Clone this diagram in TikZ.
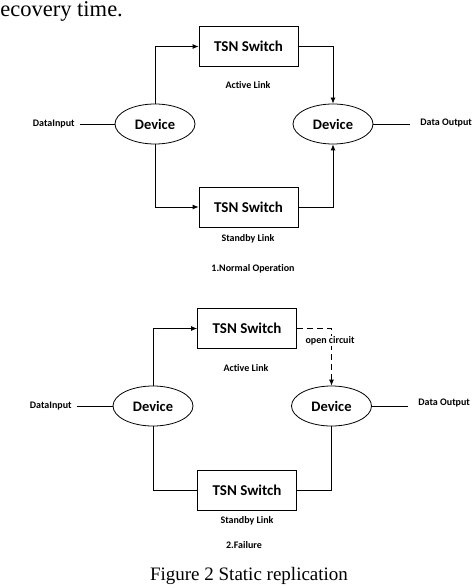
\documentclass[tikz,border=0pt]{standalone}
\usepackage{fontspec}
\setmainfont{Carlito}[Ligatures=NoCommon]
\newfontfamily\capfont{Liberation Serif}
\usetikzlibrary{shapes.geometric,arrows.meta}
\begin{document}
\begin{tikzpicture}[x=1pt,y=-1pt,
  line width=0.8pt,
  sw/.style={draw, rectangle, minimum width=99pt, minimum height=40pt, inner sep=0pt, font=\fontsize{15}{17}\selectfont\bfseries},
  dev/.style={draw, ellipse, minimum width=80pt, minimum height=40pt, inner sep=0pt, font=\fontsize{14.5}{16}\selectfont\bfseries},
  lbl/.style={inner sep=0pt, font=\fontsize{10}{12}\selectfont\bfseries},
  arr/.style={-{Latex[length=6pt,width=5pt]}},
  captxt/.style={inner sep=0pt, font=\capfont\fontsize{19}{22}\selectfont}]
\useasboundingbox (0,0) rectangle (474,588);
\node[captxt, anchor=base west, font=\capfont\fontsize{22.5}{25}\selectfont] (prev) at (0,16.5) {ecovery time.};
% ---- top diagram
\node[sw] (s1) at (248.5,46.5) {TSN Switch};
\node[sw] (s2) at (248.5,207) {TSN Switch};
\node[dev] (d1) at (155,124) {Device};
\node[dev] (d2) at (333,124) {Device};
\node[lbl] (a1) at (248,85) {Active Link};
\node[lbl] (b1) at (248,239) {Standby Link};
\node[lbl] (t1) at (253,269) {1.Normal Operation};
\node[lbl, anchor=east] (in1) at (75,124) {DataInput};
\node[lbl, anchor=west] (out1) at (420,123) {Data Output};
\draw (in1.east) ++(5,0) coordinate (in1e) (in1e) -- (d1.west);
\draw (d2.east) -- ++(37,0) coordinate (out1e);
\draw[arr] (d1.north) |- (s1.west);
\draw[arr] (s1.east) -| (d2.north);
\draw[arr] (d1.south) |- (s2.west);
\draw[arr] (s2.east) -| (d2.south);
% ---- bottom diagram
\node[sw] (s3) at (247,328.5) {TSN Switch};
\node[sw] (s4) at (247,490) {TSN Switch};
\node[dev] (d3) at (153,406) {Device};
\node[dev] (d4) at (331.5,406) {Device};
\node[lbl] (a2) at (246,368) {Active Link};
\node[lbl] (b2) at (247,521) {Standby Link};
\node[lbl] (t2) at (244,545) {2.Failure};
\node[lbl, anchor=east] (in2) at (72,406) {DataInput};
\node[lbl, anchor=west] (out2) at (418,403) {Data Output};
\draw (in2.east) ++(5,0) coordinate (in2e) (in2e) -- (d3.west);
\draw (d4.east) -- ++(36,0) coordinate (out2e);
\draw[arr] (d3.north) |- (s3.west);
\draw[arr, dashed, dash pattern=on 6pt off 4pt] (s3.east) -| (d4.north);
\node[lbl, fill=white, inner sep=1pt] (oc) at (330,341) {open circuit};
\draw (d3.south) |- (s4.west);
\draw (s4.east) -| (d4.south);
\node[captxt, anchor=base] (fig) at (249,580) {Figure 2 Static replication};
\end{tikzpicture}
\end{document}
